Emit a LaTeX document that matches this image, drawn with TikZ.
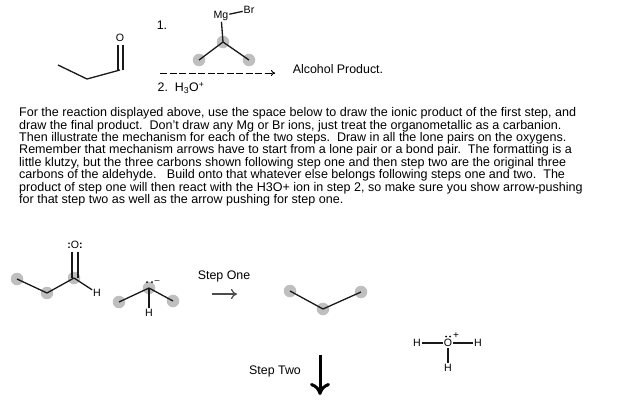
\documentclass[tikz,border=0pt]{standalone}
\usepackage{fontspec}
\setmainfont{Liberation Sans}
\usetikzlibrary{arrows.meta}
\tikzset{
	atom/.style={circle,fill=black!25,inner sep=0pt,minimum size=12.5pt},
	txt/.style={inner sep=0pt,outer sep=1pt,font=\fontsize{12.4}{14}\selectfont},
	elem/.style={inner sep=0pt,outer sep=1pt,font=\fontsize{10.6}{12}\selectfont},
	para/.style={inner sep=0pt,anchor=north west,align=left,font=\fontsize{12.54}{12.4}\selectfont},
	pair/.style={circle,fill=black,inner sep=0pt,minimum size=2pt},
	bond/.style={line width=1.3pt,black!90}
}
\begin{document}
\begin{tikzpicture}[x=1pt,y=-1pt]
			\useasboundingbox (0,0) rectangle (636,402);
			\fill[white] (0,0) rectangle (636,402);

			% ketone and reagents
			\begin{scope}[every node/.style={elem}]
				\node (O1) at (120,38) {O};
				\node (Mg) at (221,16) {Mg};
				\node (Br) at (249,10) {Br};
			\end{scope}
			\begin{scope}[every node/.style={txt}]
				\node (one) at (162,25) {1.};
				\node (two) at (181,88) {2.\ \ H\textsubscript{3}O\textsuperscript{+}};
				\node (alc) at (338,69) {Alcohol Product.};
			\end{scope}
			\coordinate (K1) at (58,65);
			\coordinate (K2) at (87,79);
			\coordinate (K3) at (120,70);
			\coordinate (K3a) at (118,70);
			\coordinate (K3b) at (123,70);
			\coordinate (O1a) at (118,45);
			\coordinate (O1b) at (123,45);
			\node[atom] (M1) at (223,42) {};
			\node[atom] (M2) at (199,60) {};
			\node[atom] (M3) at (249,60) {};
			\coordinate (D1) at (160,73);
			\coordinate (D2) at (275,73);

			\begin{scope}[bond]
				\draw (K1) -- (K2) -- (K3);
				\path (K3a) edge (O1a);
				\path (K3b) edge (O1b);
				\path (Mg) edge (M1.center);
				\path (Mg) edge (Br);
				\path (M1.center) edge (M2.center);
				\path (M1.center) edge (M3.center);
			\end{scope}
			\draw[line width=0.9pt,dash pattern=on 7pt off 2.5pt,-{To[length=4pt,width=6pt]}] (D1) -- (D2);

			% question text
			\node[para] (text) at (19,107.5) {For the reaction displayed above, use the space below to draw the ionic product of the first step, and\\
draw the final product.\ \ Don't draw any Mg or Br ions, just treat the organometallic as a carbanion.\\
Then illustrate the mechanism for each of the two steps.\ \ Draw in all the lone pairs on the oxygens.\\
Remember that mechanism arrows have to start from a lone pair or a bond pair.\ \ The formatting is a\\
little klutzy, but the three carbons shown following step one and then step two are the original three\\
carbons of the aldehyde.\ \ \ Build onto that whatever else belongs following steps one and two.\ \ The\\
product of step one will then react with the H3O+ ion in step 2, so make sure you show arrow-pushing\\
for that step two as well as the arrow pushing for step one.};

			% aldehyde and carbanion
			\node[atom] (A1) at (17,279) {};
			\node[atom] (A2) at (47,293) {};
			\node[atom] (A3) at (74,278) {};
			\node[elem] (O2) at (75,245) {\textbf{:}O\textbf{:}};
			\node[elem] (H1) at (97,293) {H};
			\coordinate (A3a) at (72,278);
			\coordinate (A3b) at (78,278);
			\coordinate (O2a) at (72,252);
			\coordinate (O2b) at (78,252);

			\node[atom] (B1) at (119,302) {};
			\node[atom] (B2) at (149,288) {};
			\node[atom] (B3) at (173,301) {};
			\node[elem] (H2) at (149,313) {H};
			\node[pair] (B2a) at (147,282) {};
			\node[pair] (B2b) at (152,282) {};
			\node[elem] (B2c) at (157,282) {\fontsize{9}{9}\selectfont --};

			\begin{scope}[bond]
				\path (A1.center) edge (A2.center);
				\path (A2.center) edge (A3.center);
				\path (A3.center) edge (H1);
				\path (A3a) edge (O2a);
				\path (A3b) edge (O2b);
				\path (B1.center) edge (B2.center);
				\path (B2.center) edge (B3.center);
				\path (B2.center) edge (H2);
			\end{scope}

			% step one
			\node[txt] (S1) at (224,276) {Step One};
			\coordinate (S1a) at (212,294);
			\coordinate (S1b) at (237,294);
			\draw[black!70,line width=1.2pt,-{To[length=6pt,width=10pt]}] (S1a) -- (S1b);

			\node[atom] (C1) at (290,291) {};
			\node[atom] (C2) at (323,309) {};
			\node[atom] (C3) at (361,292) {};
			\begin{scope}[bond]
				\path (C1.center) edge (C2.center);
				\path (C2.center) edge (C3.center);
			\end{scope}

			% step two
			\node[txt] (S2) at (275,371) {Step Two};
			\coordinate (S2a) at (320,355);
			\coordinate (S2b) at (320,395);
			\draw[black,line width=3pt,-{To[length=12pt,width=20pt]}] (S2a) -- (S2b);

			% hydronium
			\begin{scope}[every node/.style={elem}]
				\node (O3) at (448,343) {O};
				\node (H3) at (417,343) {H};
				\node (H4) at (478,343) {H};
				\node (H5) at (448,368) {H};
				\node (plus) at (456,336) {\fontsize{10}{10}\selectfont +};
			\end{scope}
			\node[pair] (O3a) at (446,336.5) {};
			\node[pair] (O3b) at (450,336.5) {};
			\begin{scope}[bond]
				\path (O3) edge (H3);
				\path (O3) edge (H4);
				\path (O3) edge (H5);
			\end{scope}
		\end{tikzpicture}
\end{document}
